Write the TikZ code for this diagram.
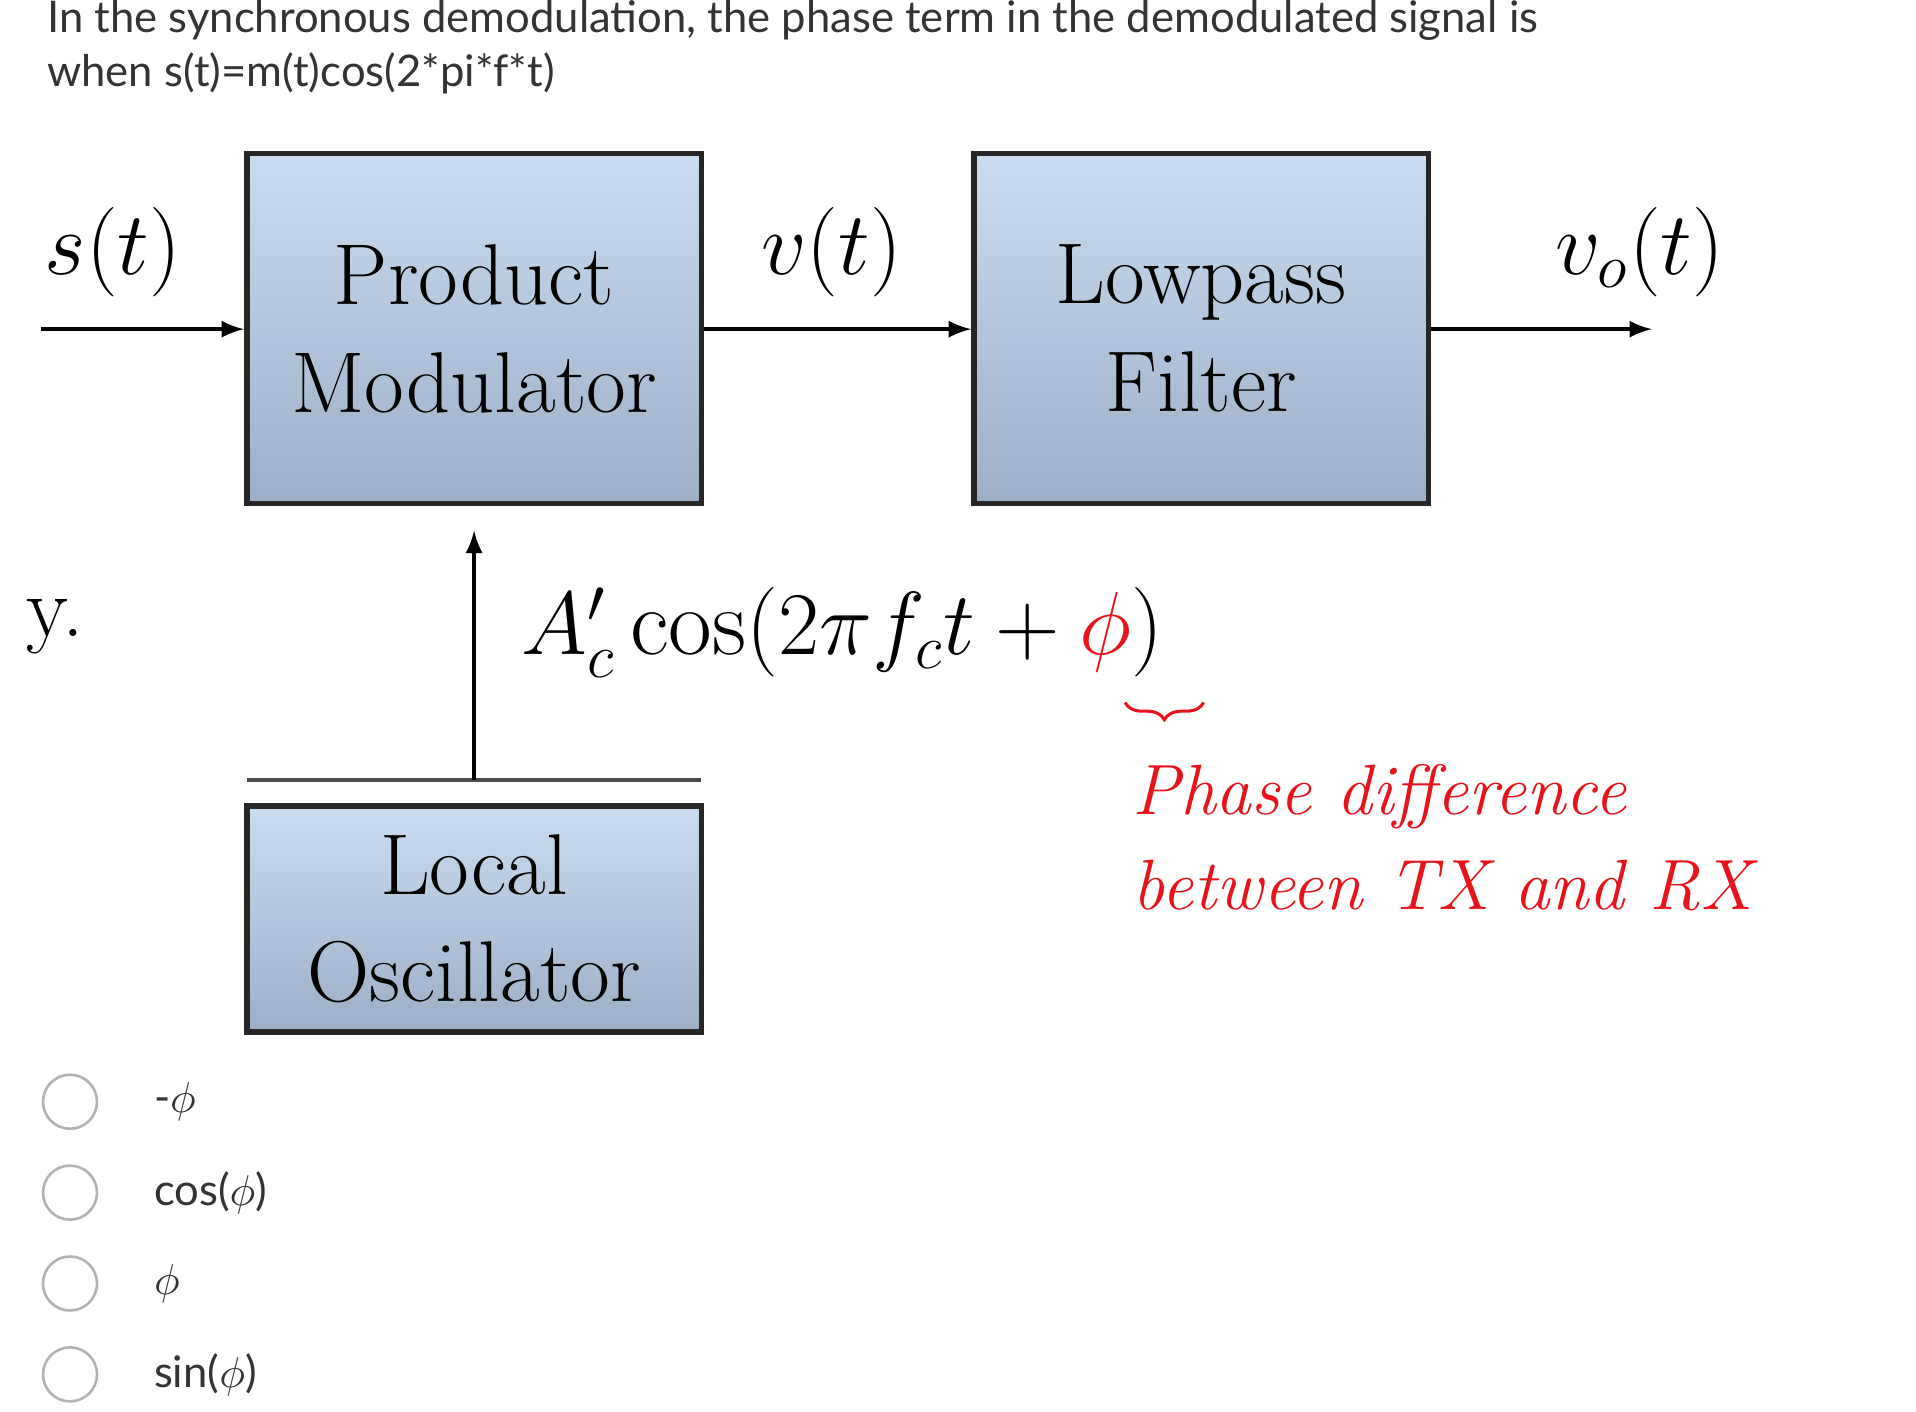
\documentclass[tikz,border=0pt]{standalone}
\usepackage{fontspec}
\newfontfamily\latofont{Lato}
\usetikzlibrary{positioning,decorations.pathreplacing}
\definecolor{boxtop}{HTML}{CADCF1}
\definecolor{boxbot}{HTML}{9DAFC7}
\definecolor{phasered}{HTML}{E8121B}
\tikzset{
  block/.style = {draw=black!85, line width=1.3pt, top color=boxtop, bottom color=boxbot,
                  minimum width=3.7cm, align=center, font=\fontsize{20}{25}\selectfont},
  sig/.style = {-latex, line width=0.8pt},
  lbl/.style = {font=\fontsize{22}{26}\selectfont},
  ui/.style = {font=\latofont\fontsize{10.1}{13}\selectfont, text=black!80},
  radio/.style = {draw=black!30, line width=0.6pt, circle, minimum size=0.44cm, inner sep=0pt}
}
\begin{document}
\begin{tikzpicture}
\useasboundingbox (0,0) rectangle (15.6,-11.49);
% question text
\node[ui, anchor=west] (q1) at (0.26,-0.17) {In the synchronous demodulation, the phase term in the demodulated signal is};
\node[ui, anchor=west] (q2) at (0.26,-0.6) {when s(t)=m(t)cos(2*pi*f*t)};

% blocks
\node[block, minimum height=2.85cm] (prod) at (3.86,-2.675) {Product\\Modulator};
\node[block, minimum height=2.85cm] (lpf) at (9.78,-2.675) {Lowpass\\Filter};
\node[block, minimum height=1.84cm, font=\fontsize{20}{25}\selectfont] (osc) at (3.86,-7.48) {Local\\Oscillator};

\coordinate (in) at (0.33,-2.68);
\coordinate (out) at (13.45,-2.68);
\coordinate (osctop) at (3.86,-6.35);
\draw[black!70, line width=1pt] (2.01,-6.35) -- (5.71,-6.35);

\draw[sig] (in) -- (in -| prod.west);
\draw[sig] (prod.east |- in) -- (lpf.west |- in);
\draw[sig] (lpf.east |- in) -- (out);
\draw[sig] (osctop) -- (3.86,-4.32);

\node[lbl] (st) at (0.92,-2.05) {$s(t)$};
\node[lbl] (vt) at (6.77,-2.05) {$v(t)$};
\node[lbl] (vo) at (13.35,-2.05) {$v_o(t)$};
\node[font=\fontsize{20}{24}\selectfont] (y) at (0.45,-5.1) {y.};

\node[lbl, anchor=west] (carrier) at (4.12,-5.15) {$A_c'\cos(2\pi f_c t + {\color{phasered}\phi})$};
\draw[phasered, decorate, decoration={brace, mirror, amplitude=4pt}, line width=0.7pt] (9.16,-5.72) -- (9.80,-5.72);
\node[phasered, font=\itshape\fontsize{16.5}{22}\selectfont, anchor=north west, align=left] (note) at (9.1,-6.1) {Phase difference\\between TX and RX};

% answer options
\foreach \i/\t in {0/{-$\phi$}, 1/{cos($\phi$)}, 2/{$\phi$}, 3/{sin($\phi$)}} {
  \node[radio] (r\i) at (0.57,-8.97-0.74*\i) {};
  \node[ui, anchor=west] (o\i) at (1.13,-8.97-0.74*\i) {\t};
}
\end{tikzpicture}
\end{document}
